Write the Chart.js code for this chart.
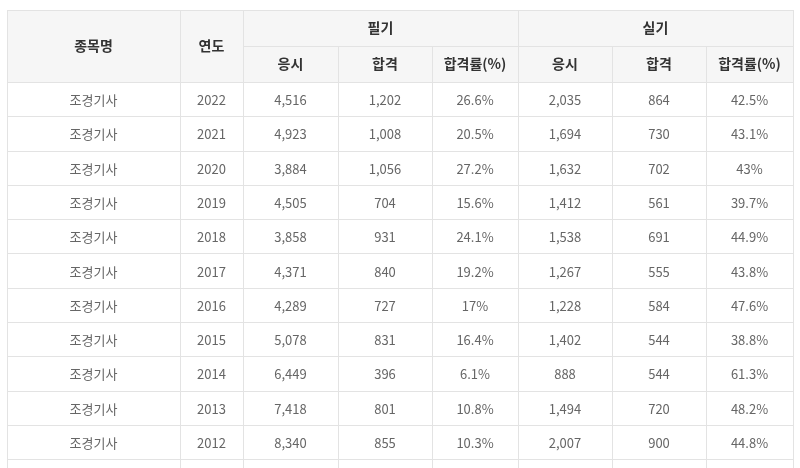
<!DOCTYPE html><html><head><meta charset="utf-8">
<script src="https://cdn.jsdelivr.net/npm/chart.js@4"></script>
<style>html,body{margin:0;padding:0;background:#fff}#c{display:block}</style></head><body>
<div style="width:800px;height:468px"><canvas id="c"></canvas></div>
<script>
const names=['조경기사','조경기사','조경기사','조경기사','조경기사','조경기사','조경기사','조경기사','조경기사','조경기사','조경기사'];
const years=['2022','2021','2020','2019','2018','2017','2016','2015','2014','2013','2012'];
const wApply=['4,516','4,923','3,884','4,505','3,858','4,371','4,289','5,078','6,449','7,418','8,340'];
const wPass=['1,202','1,008','1,056','704','931','840','727','831','396','801','855'];
const wRate=['26.6%','20.5%','27.2%','15.6%','24.1%','19.2%','17%','16.4%','6.1%','10.8%','10.3%'];
const pApply=['2,035','1,694','1,632','1,412','1,538','1,267','1,228','1,402','888','1,494','2,007'];
const pPass=['864','730','702','561','691','555','584','544','544','720','900'];
const pRate=['42.5%','43.1%','43%','39.7%','44.9%','43.8%','47.6%','38.8%','61.3%','48.2%','44.8%'];
const topHeaders=['종목명','연도','필기','실기'];
const subHeaders=['응시','합격','합격률(%)','응시','합격','합격률(%)'];
const cols=[names,years,wApply,wPass,wRate,pApply,pPass,pRate];
// layout
const edges=[7,180,243,338,432,518,612,706,793];
const H1=10,H2=46,H3=82,RH=34.3;
const rowY=i=>H3+i*RH;
const font='"Noto Sans CJK KR","Noto Sans",sans-serif';
const tablePlugin={id:'tbl',beforeDatasetsDraw(ch){
 const c=ch.ctx,x=ch.scales.x,y=ch.scales.y;
 const X=v=>x.getPixelForValue(v),Y=v=>y.getPixelForValue(v);
 const L=X(edges[0]),R=X(edges[8]),B=Y(468);
 c.save();
 c.fillStyle='#f6f6f6';c.fillRect(L,Y(H1),R-L,Y(H3)-Y(H1));
 c.strokeStyle='#e3e3e3';c.lineWidth=1;
 const hl=(y0,a,b)=>{c.beginPath();c.moveTo(a,Math.round(y0)+.5);c.lineTo(b,Math.round(y0)+.5);c.stroke();};
 const vl=(x0,a,b)=>{c.beginPath();c.moveTo(Math.round(x0)+.5,a);c.lineTo(Math.round(x0)+.5,b);c.stroke();};
 hl(Y(H1),L,R);hl(Y(H2),X(edges[2]),R);
 for(let i=0;i<=years.length;i++)hl(Y(rowY(i)),L,R);
 edges.forEach((e,k)=>{let t=Y(H1);if(k>2&&k!==5&&k<8)t=Y(H2);vl(X(e),t,B);});
 c.textAlign='center';c.textBaseline='middle';
 c.font='bold 14px '+font;c.fillStyle='#333';
 const mid=(a,b)=>(X(edges[a])+X(edges[b]))/2;
 c.fillText(topHeaders[0],mid(0,1),Y((H1+H3)/2));
 c.fillText(topHeaders[1],mid(1,2),Y((H1+H3)/2));
 c.fillText(topHeaders[2],mid(2,5),Y((H1+H2)/2));
 c.fillText(topHeaders[3],mid(5,8),Y((H1+H2)/2));
 subHeaders.forEach((s,k)=>c.fillText(s,mid(k+2,k+3),Y((H2+H3)/2)));
 c.font='13px '+font;c.fillStyle='#666';
 cols.forEach((col,k)=>col.forEach((v,i)=>c.fillText(v,mid(k,k+1),Y(rowY(i)+RH/2+1))));
 c.restore();}};
new Chart(document.getElementById('c'),{type:'scatter',
 data:{datasets:[{data:years.map((v,i)=>({x:edges[1],y:rowY(i)})),pointRadius:0}]},
 options:{responsive:true,maintainAspectRatio:false,animation:false,events:[],
  layout:{padding:0},
  plugins:{legend:{display:false},tooltip:{enabled:false}},
  scales:{x:{type:'linear',min:0,max:800,display:false},y:{type:'linear',min:0,max:468,reverse:true,display:false}}},
 plugins:[tablePlugin]});
</script></body></html>
